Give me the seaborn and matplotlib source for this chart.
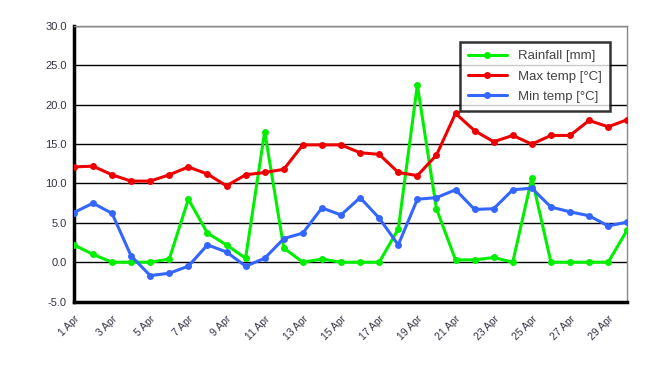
import numpy as np
import pandas as pd
import seaborn as sns
import matplotlib.pyplot as plt

days = list(range(1, 31))
rainfall = [2.2, 1.0, 0.0, 0.0, 0.0, 0.4, 8.0, 3.7, 2.2, 0.5,
            16.6, 1.8, 0.0, 0.4, 0.0, 0.0, 0.0, 4.2, 22.5, 6.8,
            0.3, 0.3, 0.6, 0.0, 10.7, 0.0, 0.0, 0.0, 0.0, 4.1]
max_temp = [12.1, 12.2, 11.1, 10.3, 10.3, 11.1, 12.1, 11.2, 9.7, 11.1,
            11.4, 11.8, 14.9, 14.9, 14.9, 13.9, 13.7, 11.4, 11.0, 13.6,
            18.9, 16.7, 15.3, 16.1, 15.0, 16.1, 16.1, 18.0, 17.2, 18.1]
min_temp = [6.3, 7.5, 6.2, 0.8, -1.7, -1.4, -0.5, 2.2, 1.3, -0.5,
            0.5, 3.0, 3.7, 6.9, 6.0, 8.2, 5.6, 2.2, 8.0, 8.2,
            9.2, 6.7, 6.8, 9.2, 9.4, 7.0, 6.4, 5.9, 4.6, 5.1]
series_names = ['Rainfall [mm]', 'Max temp [°C]', 'Min temp [°C]']
tick_days = list(range(1, 30, 2))
tick_labels = [f'{d} Apr' for d in tick_days]

df = pd.DataFrame({'day': days, series_names[0]: rainfall,
                   series_names[1]: max_temp, series_names[2]: min_temp})
long_df = df.melt(id_vars='day', var_name='series', value_name='value')

sns.set_style('white')
plt.rcParams['font.family'] = ['Liberation Sans', 'DejaVu Sans']

fig = plt.figure(figsize=(6.48, 3.66), dpi=100)
ax = fig.add_axes([0.114, 0.176, 0.854, 0.753])

palette = {series_names[0]: '#00ee00', series_names[1]: '#ee0000', series_names[2]: '#3366ff'}
sns.lineplot(data=long_df, x='day', y='value', hue='series', palette=palette,
             marker='o', markersize=5, markeredgewidth=0, linewidth=2.2, ax=ax, zorder=3)

ax.set_xlim(1, 30)
ax.set_ylim(-5, 30)
ax.set_yticks(np.arange(-5, 31, 5))
ax.set_yticklabels([f'{v:.1f}' for v in np.arange(-5, 31, 5)], fontsize=8, color='#333344')
ax.set_xticks(tick_days)
ax.set_xticklabels(tick_labels, rotation=45, ha='right', rotation_mode='anchor',
                   fontsize=7.5, color='#333344')
ax.set_xlabel('')
ax.set_ylabel('')

ax.grid(axis='y', color='black', linewidth=1)
ax.set_axisbelow(True)
for side in ['left', 'bottom']:
    ax.spines[side].set_color('black')
    ax.spines[side].set_linewidth(2.5)
for side in ['top', 'right']:
    ax.spines[side].set_color('#888888')
    ax.spines[side].set_linewidth(1)
ax.tick_params(axis='both', direction='out', length=3, width=1.5, color='black', pad=2)
ax.tick_params(axis='x', pad=6)

leg = ax.legend(loc='upper right', bbox_to_anchor=(0.98, 0.965), fontsize=9.5,
                frameon=True, fancybox=False, handlelength=3, borderpad=0.6,
                labelspacing=0.6)
leg.get_frame().set_edgecolor('black')
leg.get_frame().set_linewidth(1.8)
for t in leg.get_texts():
    t.set_color('#444444')

fig.savefig('out.png', dpi=100)
